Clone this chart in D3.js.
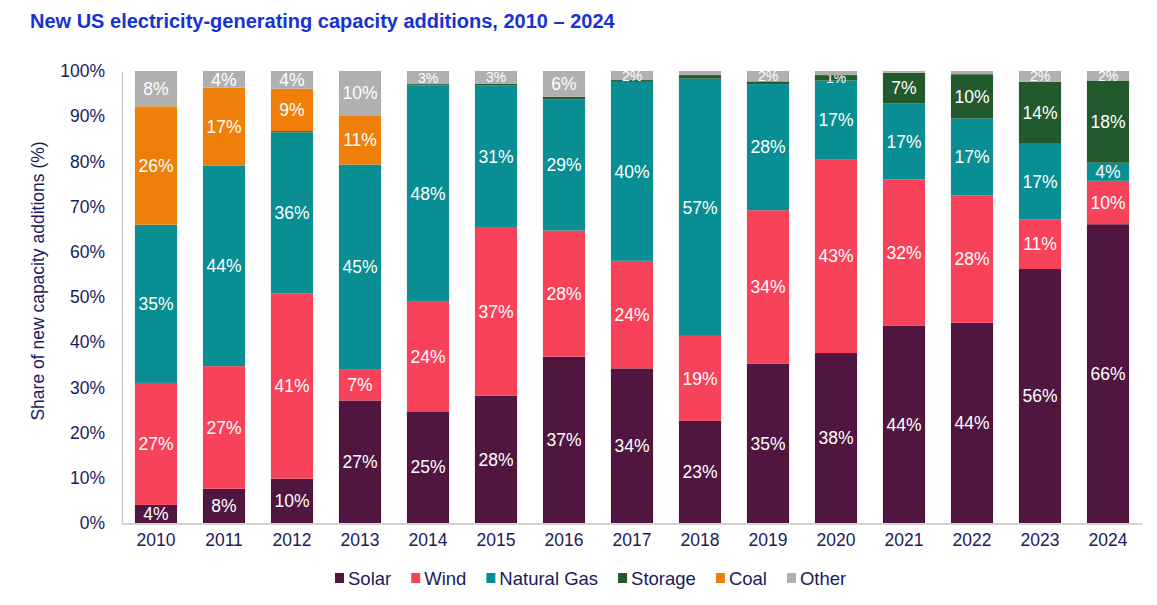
<!DOCTYPE html>
<html>
<head>
<meta charset="utf-8">
<script src="https://cdn.jsdelivr.net/npm/d3@7"></script>
<style>
  body { margin: 0; background: #fff; }
  text { font-family: "Liberation Sans", Arial, sans-serif; }
</style>
</head>
<body>
<div id="chart-area"></div>
<script>
// Share of new capacity additions (%)
var years   = ["2010","2011","2012","2013","2014","2015","2016","2017","2018","2019","2020","2021","2022","2023","2024"];
var solar   = [4.0, 7.6, 9.8, 27.1, 24.7, 28.2, 36.8, 34.2, 22.6, 35.2, 37.6, 43.7, 44.3, 56.2, 66.1];
var wind    = [27.0, 27.1, 41.0, 6.8, 24.4, 37.3, 27.9, 23.8, 18.8, 34.0, 42.9, 32.3, 28.2, 11.0, 9.6];
var gas     = [35.0, 44.4, 35.6, 45.4, 47.7, 31.3, 29.0, 39.6, 56.9, 27.9, 17.4, 16.8, 17.0, 16.7, 4.0];
var storage = [0, 0, 0.3, 0, 0.3, 0.4, 0.6, 0.4, 0.8, 0.6, 1.2, 6.8, 9.8, 13.7, 18.2];
var coal    = [26.2, 17.2, 9.4, 10.9, 0, 0, 0, 0, 0, 0, 0, 0, 0, 0, 0];
var other   = [7.8, 3.7, 3.9, 9.8, 2.9, 2.8, 5.7, 2.0, 0.9, 2.3, 0.9, 0.4, 0.7, 2.4, 2.1];

var seriesNames = ["Solar", "Wind", "Natural Gas", "Storage", "Coal", "Other"];
var seriesVals  = [solar, wind, gas, storage, coal, other];
var colors      = ["#51163f", "#f8425a", "#098e93", "#225a2e", "#f07f09", "#b0b0b1"];
var yTicks      = [0, 10, 20, 30, 40, 50, 60, 70, 80, 90, 100];

var W = 1157, H = 605;
var navy = "#1b1a5c";

// build rows for d3.stack
var rows = years.map(function (yr, i) {
    var r = { year: yr };
    seriesNames.forEach(function (s, k) { r[s] = seriesVals[k][i]; });
    return r;
});

var svg = d3.select("#chart-area")
    .append("svg")
        .attr("width", W)
        .attr("height", H);

// Title
svg.append("text")
    .attr("x", 30)
    .attr("y", 28)
    .attr("font-size", "20px")
    .attr("font-weight", "bold")
    .attr("fill", "#1732d4")
    .text("New US electricity-generating capacity additions, 2010 \u2013 2024");

// Scales
var x = d3.scaleBand()
    .domain(years)
    .range([122, 1142])
    .paddingInner(0.38)
    .paddingOuter(0.19);

var y = d3.scaleLinear()
    .domain([0, 100])
    .range([523, 71]);

// Y axis (labels + line, no ticks)
var yAxisG = svg.append("g")
    .attr("transform", "translate(122,0)")
    .call(d3.axisLeft(y).tickValues(yTicks).tickSize(0).tickPadding(17)
        .tickFormat(function (d) { return d + "%"; }));
yAxisG.select(".domain").attr("stroke", "#c4c4c4").attr("stroke-width", 1.3);
yAxisG.selectAll("text")
    .attr("font-size", "17.5px")
    .attr("fill", navy)
    .attr("font-family", "Liberation Sans, Arial, sans-serif");

// X axis
var xAxisG = svg.append("g")
    .attr("transform", "translate(0,523.5)")
    .call(d3.axisBottom(x).tickSize(0).tickPadding(10).tickSizeOuter(0));
xAxisG.select(".domain").attr("stroke", "#c4c4c4").attr("stroke-width", 1.3);
xAxisG.selectAll("text")
    .attr("font-size", "17.5px")
    .attr("fill", navy)
    .attr("font-family", "Liberation Sans, Arial, sans-serif");

// Y label
svg.append("text")
    .attr("transform", "translate(44,281) rotate(-90)")
    .attr("text-anchor", "middle")
    .attr("font-size", "17.5px")
    .attr("fill", navy)
    .text("Share of new capacity additions (%)");

// Stacked bars
var stacked = d3.stack().keys(seriesNames)(rows);

var layers = svg.selectAll("g.layer")
    .data(stacked)
    .enter()
    .append("g")
        .attr("class", "layer")
        .attr("fill", function (d, i) { return colors[i]; });

layers.selectAll("rect")
    .data(function (d) { return d; })
    .enter()
    .append("rect")
        .attr("x", function (d) { return x(d.data.year); })
        .attr("width", x.bandwidth())
        .attr("y", function (d) { return y(d[1]); })
        .attr("height", function (d) { return y(d[0]) - y(d[1]); });

// Value labels
layers.selectAll("text.val")
    .data(function (d) { return d.filter(function (p) { return p[1] - p[0] >= 1; }); })
    .enter()
    .append("text")
        .attr("class", "val")
        .attr("x", function (d) { return x(d.data.year) + x.bandwidth() / 2; })
        .attr("y", function (d) { return y((d[0] + d[1]) / 2); })
        .attr("dy", "0.36em")
        .attr("text-anchor", "middle")
        .attr("fill", "#ffffff")
        .attr("font-size", function (d) { return (d[1] - d[0]) < 3.5 ? "14px" : "17.5px"; })
        .text(function (d) { return Math.round(d[1] - d[0]) + "%"; });

// Legend
var legend = svg.append("g").attr("transform", "translate(335,578)");
var lx = 0;
seriesNames.forEach(function (s, i) {
    var item = legend.append("g").attr("transform", "translate(" + lx + ",0)");
    item.append("rect")
        .attr("x", 0)
        .attr("y", -5)
        .attr("width", 9)
        .attr("height", 10)
        .attr("fill", colors[i]);
    var t = item.append("text")
        .attr("x", 13)
        .attr("y", 0)
        .attr("dy", "0.36em")
        .attr("font-size", "18.5px")
        .attr("fill", navy)
        .text(s);
    lx += 13 + t.node().getComputedTextLength() + 20;
});
</script>
</body>
</html>
